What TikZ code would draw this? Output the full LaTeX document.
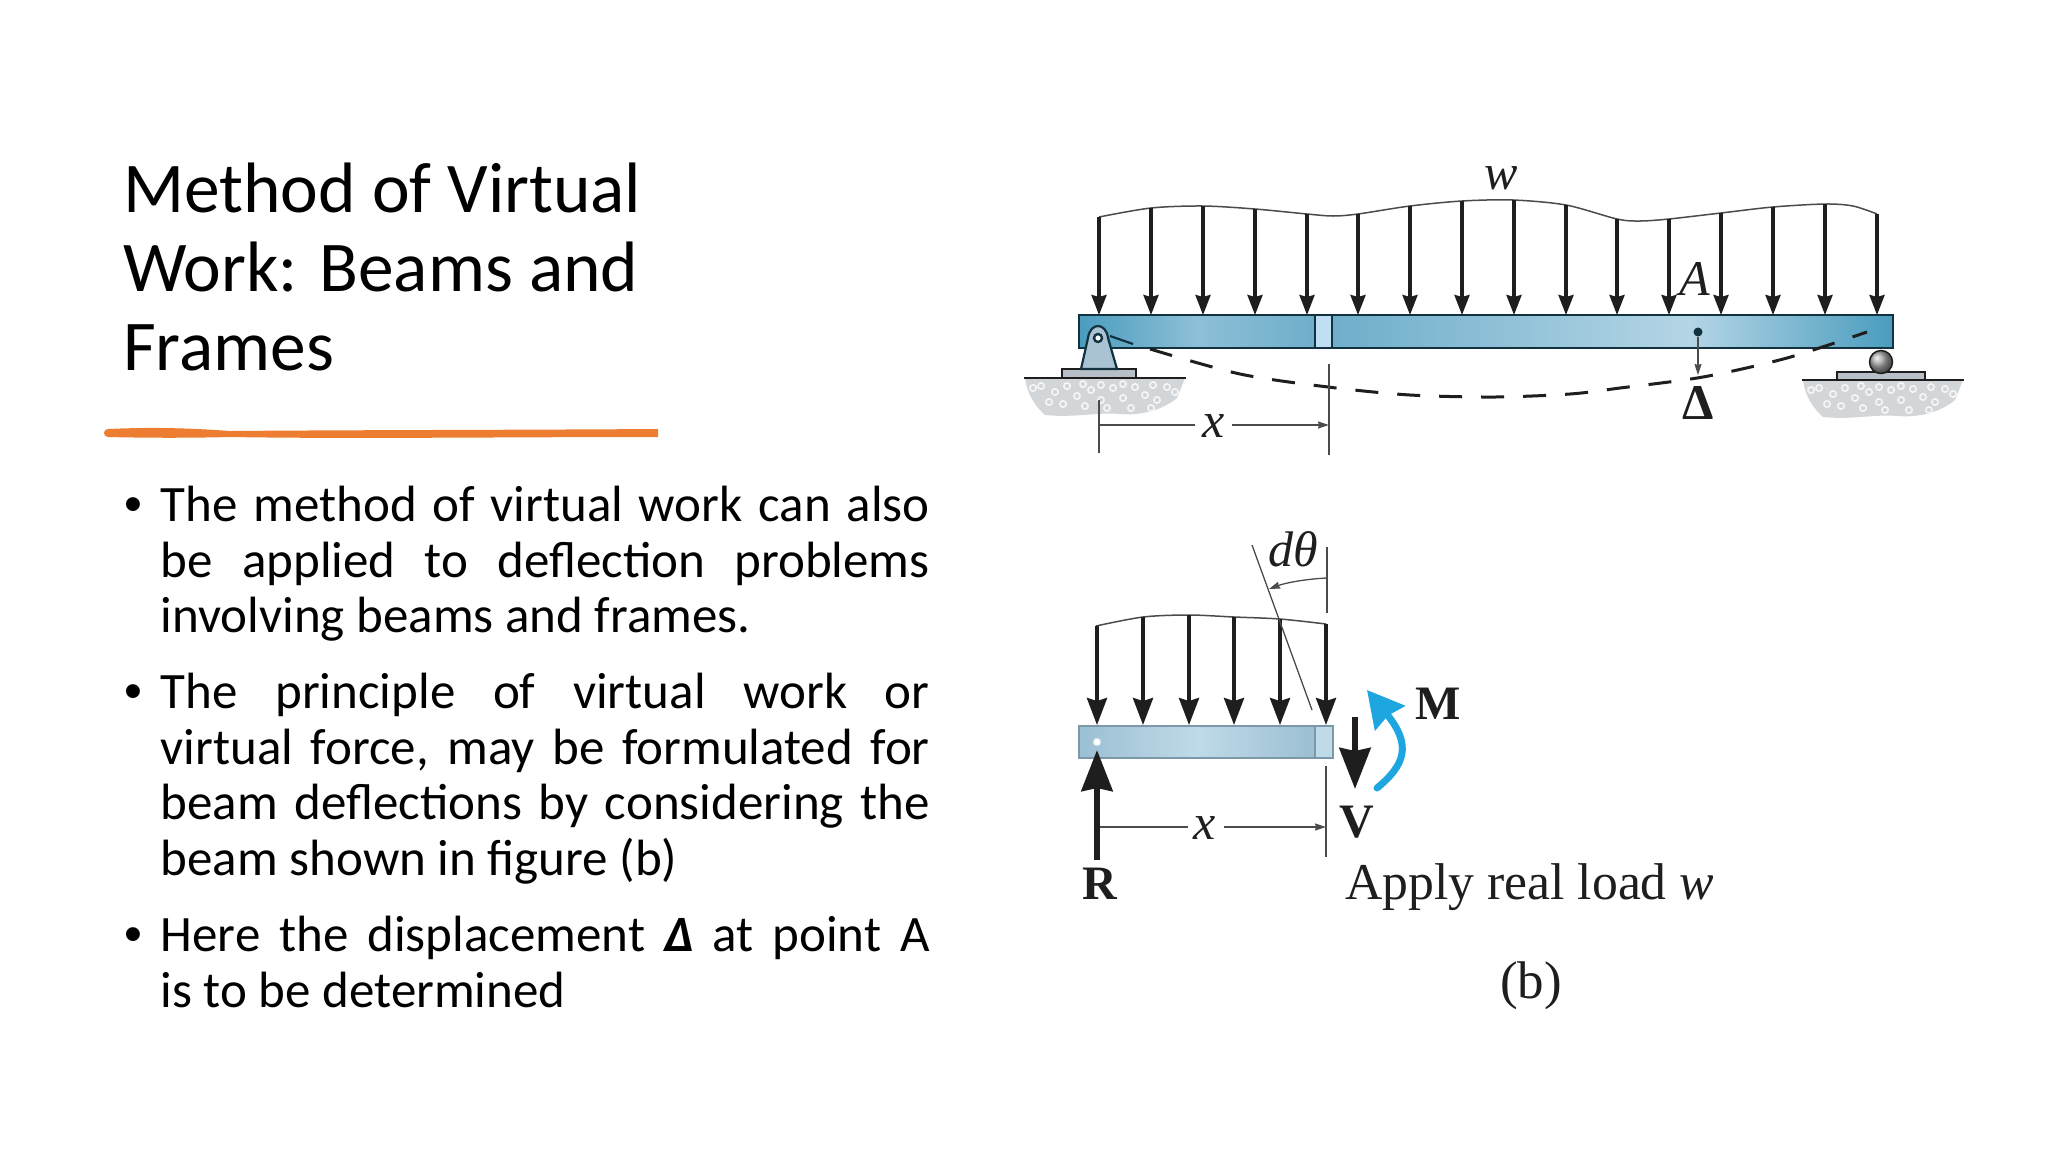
\documentclass[tikz,border=0pt]{standalone}
\usepackage{fontspec}
\setmainfont{Carlito}
\newfontfamily\figfont{Liberation Serif}
\newfontfamily\bulletfont{Liberation Sans}
\usetikzlibrary{arrows.meta}

\definecolor{beamedge}{HTML}{12323F}
\definecolor{beamdark}{HTML}{4A9CBE}
\definecolor{beammid}{HTML}{6FAECB}
\definecolor{beamlight}{HTML}{B4D5E5}
\definecolor{cutfill}{HTML}{BFE0F2}
\definecolor{freedark}{HTML}{9BBFD3}
\definecolor{freelight}{HTML}{BFDAE8}
\definecolor{freeedge}{HTML}{7D98A8}
\definecolor{platefill}{HTML}{B7C0C9}
\definecolor{pinfill}{HTML}{A9C2D4}
\definecolor{groundfill}{HTML}{D3D6D8}
\definecolor{groundring}{HTML}{F4F5F5}
\definecolor{momentblue}{HTML}{1EA6E0}
\definecolor{slideorange}{HTML}{ED7D31}
\definecolor{figink}{HTML}{1E1E1E}

\newcommand{\bulletmark}{\hspace*{-36pt}\makebox[36pt][l]{\bulletfont •}}

\tikzset{
  loadarrow/.style={figink,line width=3.2pt,-{Stealth[length=20pt,width=15pt,inset=2pt]}},
  loadarrowb/.style={figink,line width=3.8pt,-{Stealth[length=27pt,width=20pt,inset=3pt]}},
  forcearrow/.style={figink,line width=6pt,-{Stealth[length=41pt,width=31pt,inset=3pt]}},
  dimline/.style={draw=figink!80,line width=1.3pt},
  dimarrow/.style={dimline,-{Stealth[length=11pt,width=7pt,inset=1pt]}},
  loadcurve/.style={draw=figink!80,line width=1.5pt},
  figlabel/.style={font=\figfont\itshape\fontsize{50}{50}\selectfont,text=figink,inner sep=0pt},
  forcelabel/.style={font=\figfont\bfseries\fontsize{48}{48}\selectfont,text=figink,inner sep=0pt},
  titleline/.style={anchor=base west,inner sep=0pt,font=\fontsize{71.4}{79}\selectfont},
  bodytext/.style={anchor=north west,inner sep=0pt,text width=769pt,align=justify,
    font=\fontsize{51}{55.5}\selectfont},
  pics/groundpatch/.style={code={
    \fill[groundfill] (-80,0) .. controls (-78,16) and (-70,28) .. (-60,37)
      .. controls (-30,40) and (-10,34) .. (15,36) .. controls (40,38) and (60,30) .. (72,20)
      -- (80,0) -- cycle;
    \foreach \a/\b in {-64/8,-50/14,-38/8,-28/18,-14/12,-4/22,8/10,18/20,30/9,40/17,52/22,62/9,
                       -56/24,-42/26,-20/28,2/30,26/30,46/30,70/14,-72/10,-22/6,-4/7,18/6,48/7} {
      \draw[groundring,line width=1.6pt] (\a,\b) circle (3.2pt);}
    \draw[figink,line width=2pt] (-81,0) -- (81,0);
  }}
}

\begin{document}
\begin{tikzpicture}[x=1pt,y=-1pt]
\useasboundingbox (0,0) rectangle (2048,1152);
\fill[white] (0,0) rectangle (2048,1152);

% title
\node[titleline] (title1) at (123,212) {Method of Virtual};
\node[titleline] (title2) at (123,291) {Work: Beams and};
\node[titleline] (title3) at (123,370) {Frames};
\fill[slideorange] (108,429) .. controls (150,427) and (190,428) .. (230,431)
  .. controls (350,430) and (500,430) .. (658,429) -- (658,437)
  .. controls (500,437) and (350,439) .. (230,437) .. controls (190,438) and (150,438) .. (108,437)
  arc (270:90:4pt) -- cycle;

% bullets
\node[bodytext] (para1) at (160.5,486) {\tolerance=9999\hbadness=10000
  \bulletmark The method of virtual work can also\linebreak
  be applied to deflection problems\linebreak
  involving beams and frames.};
\node[bodytext] (para2) at (160.5,673) {\tolerance=9999\hbadness=10000
  \bulletmark The principle of virtual work or\linebreak
  virtual force, may be formulated for\linebreak
  beam deflections by considering the\linebreak
  beam shown in figure (b)};
\node[bodytext] (para3) at (160.5,916) {\tolerance=9999\hbadness=10000
  \bulletmark Here the displacement \textbf{\textit{Δ}} at point A\linebreak
  is to be determined};

% beam, top figure
\shade[left color=beamdark,right color=beammid,middle color=beammid!55!beamlight] (1079,315) rectangle (1315,348);
\shade[left color=beammid,right color=beamlight] (1332,315) rectangle (1690,348);
\shade[left color=beamlight,right color=beamdark] (1690,315) rectangle (1893,348);
\fill[cutfill] (1315,315) rectangle (1332,348);
\draw[beamedge,line width=2.2pt] (1079,315) rectangle (1893,348);
\draw[beamedge,line width=2pt] (1315,315) -- (1315,348);
\draw[beamedge,line width=2pt] (1332,315) -- (1332,348);

% load
\draw[loadcurve] plot[smooth] coordinates {(1099,217) (1151,208) (1203,206) (1255,209) (1307,214) (1333,216)
  (1358,214) (1410,206) (1462,201) (1513,200) (1566,205) (1617,219) (1640,221) (1669,219)
  (1721,213) (1773,207) (1825,204) (1853,206) (1877,214)};
\foreach \x/\y in {1099/217,1151/208,1203/206,1255/209,1307/214,1358/214,1410/206,1462/201,
                   1514/200,1566/205,1617/219,1669/219,1721/213,1773/207,1825/204,1877/214} {
\draw[loadarrow] (\x,\y) -- (\x,315);}
\node[figlabel] (wlabel) at (1501,178) {w};
\node[figlabel] (alabel) at (1695,279) {A};

% supports
\pic at (1105,378) {groundpatch};
\pic at (1883,380) {groundpatch};
\draw[fill=platefill,draw=figink,line width=2pt] (1062,369) rectangle (1136,378);
\draw[fill=pinfill,draw=beamedge,line width=2.2pt] (1081,369) -- (1088,338)
  .. controls (1090,322) and (1106,322) .. (1108,338) -- (1117,369) -- cycle;
\draw[fill=white,draw=beamedge,line width=2.4pt] (1098,338) circle (4pt);
\draw[beamedge,line width=2.2pt] (1110,336) -- (1133,344);
\draw[fill=platefill,draw=figink,line width=2pt] (1837,372) rectangle (1925,380);
\shade[ball color=gray!70] (1881,362) circle (11.5pt);
\draw[figink,line width=1.5pt] (1881,362) circle (11.5pt);

% deflected shape
\draw[figink,line width=3pt,dash pattern=on 23pt off 19pt] plot[smooth] coordinates {(1150,349) (1240,374)
  (1328,387) (1410,395) (1495,397) (1570,394) (1620,388) (1703,377) (1787,358) (1867,332)};

% point A and displacement
\node[circle,fill=beamedge,inner sep=0pt,minimum size=9pt] (pointa) at (1698,332) {};
\coordinate (pointad) at (1698,375);
\draw[dimarrow] (pointa) -- (pointad);
\node[inner sep=0pt,text=figink,font=\figfont\bfseries\fontsize{50}{50}\selectfont] (deltalabel) at (1698,403) {Δ};

% dimension x, top figure
\coordinate (topleftu) at (1099,400);
\coordinate (topleftd) at (1099,453);
\coordinate (toprightu) at (1329,364);
\coordinate (toprightd) at (1329,455);
\coordinate (topstart) at (1099,425);
\coordinate (topend) at (1329,425);
\draw[dimline] (topleftu) -- (topleftd);
\draw[dimline] (toprightu) -- (toprightd);
\node[figlabel] (xtop) at (1214,426) {x};
\draw[dimline] (topstart) -- (1195,425);
\draw[dimarrow] (1232,425) -- (topend);

% free body, figure (b)
\shade[left color=freedark,right color=freedark,middle color=freelight] (1079,726) rectangle (1315,758);
\fill[freelight] (1315,726) rectangle (1333,758);
\draw[freeedge,line width=2pt] (1079,726) rectangle (1333,758);
\draw[freeedge,line width=2pt] (1315,726) -- (1315,758);

% load b
\draw[loadcurve] plot[smooth] coordinates {(1096,626) (1143,617) (1189,615) (1234,617) (1280,619) (1326,624)};
\foreach \x/\y in {1097/626,1143/617,1189/615,1234/617,1280/619,1326/624} {
\draw[loadarrowb] (\x,\y) -- (\x,725);}

% rotation
\coordinate (tanglea) at (1252,545);
\coordinate (tangleb) at (1312,710);
\coordinate (vertu) at (1327,547);
\coordinate (vertd) at (1327,613);
\draw[dimline] (tanglea) -- (tangleb);
\draw[dimline] (vertu) -- (vertd);
\draw[dimarrow] (1327,578) .. controls (1305,579) and (1285,583) .. (1269,589);
\node[figlabel] (dtheta) at (1293,549) {dθ};

% reactions
\draw[forcearrow] (1097,860) -- (1097,750);
\node[circle,fill=white,draw=freelight,line width=1pt,inner sep=0pt,minimum size=8pt] (pinb) at (1097,742) {};
\draw[forcearrow] (1355,717) -- (1355,789);
\draw[momentblue,line width=7pt,line cap=round,-{Stealth[length=36pt,width=38pt,inset=3pt]}]
  (1377,788) .. controls (1405,765) and (1412,745) .. (1367,690);
\node[forcelabel] (rlabel) at (1100,884) {R};
\node[forcelabel] (vlabel) at (1357,822) {V};
\node[forcelabel] (mlabel) at (1438,704) {M};

% dimension x, figure (b)
\coordinate (botrightu) at (1326,766);
\coordinate (botrightd) at (1326,857);
\coordinate (botstart) at (1100,827);
\coordinate (botend) at (1326,827);
\draw[dimline] (botrightu) -- (botrightd);
\node[figlabel] (xbot) at (1205,828) {x};
\draw[dimline] (botstart) -- (1188,827);
\draw[dimarrow] (1224,827) -- (botend);

\node[anchor=west,inner sep=0pt,text=figink,font=\figfont\fontsize{51.7}{52}\selectfont] (applytext) at (1345,887) {Apply real load \textit{w}};
\node[inner sep=0pt,text=figink,font=\figfont\fontsize{53}{53}\selectfont] (blabel) at (1531,986) {(b)};
\end{tikzpicture}
\end{document}
